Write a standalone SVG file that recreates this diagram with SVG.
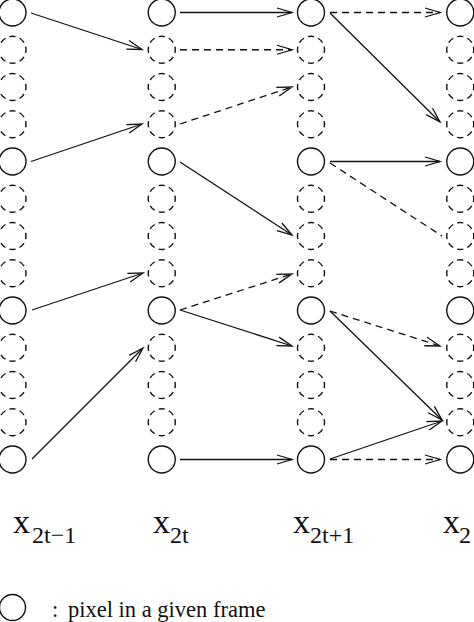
<svg xmlns="http://www.w3.org/2000/svg" width="474" height="622" viewBox="0 0 474 622">
<style>
.px{fill:none;stroke:#111;stroke-width:1.4}
.dp{fill:none;stroke:#111;stroke-width:1.4;stroke-dasharray:6 4;stroke-dashoffset:3}
.s{stroke:#111;stroke-width:1.3;fill:none;marker-end:url(#ah)}
.d{stroke:#111;stroke-width:1.3;fill:none;stroke-dasharray:7 5;marker-end:url(#ah)}
.dn{stroke:#111;stroke-width:1.3;fill:none;stroke-dasharray:7 5}
.lab{font-family:"Liberation Serif","Times New Roman",serif;fill:#111}
</style>
<defs>
<marker id="ah" markerUnits="userSpaceOnUse" markerWidth="20" markerHeight="12" viewBox="-17 -6 19 12" refX="0" refY="0" orient="auto" overflow="visible">
<path d="M-15,-4.5 L0,0 L-15,4.5" fill="none" stroke="#111" stroke-width="1.3" stroke-dasharray="none"/>
</marker>
<circle id="sc" r="13.5" class="px"/>
<circle id="dc" r="13.5" pathLength="80" class="dp"/>
</defs>
<g id="col1">
<use href="#sc" x="12.5" y="12.5"/><use href="#dc" x="12.5" y="49.75"/><use href="#dc" x="12.5" y="87"/><use href="#dc" x="12.5" y="124.25"/>
<use href="#sc" x="12.5" y="161.5"/><use href="#dc" x="12.5" y="198.75"/><use href="#dc" x="12.5" y="236"/><use href="#dc" x="12.5" y="273.25"/>
<use href="#sc" x="12.5" y="310.5"/><use href="#dc" x="12.5" y="347.75"/><use href="#dc" x="12.5" y="385"/><use href="#dc" x="12.5" y="422.25"/>
<use href="#sc" x="12.5" y="459.5"/>
</g>
<g id="col2">
<use href="#sc" x="161.75" y="12.5"/><use href="#dc" x="161.75" y="49.75"/><use href="#dc" x="161.75" y="87"/><use href="#dc" x="161.75" y="124.25"/>
<use href="#sc" x="161.75" y="161.5"/><use href="#dc" x="161.75" y="198.75"/><use href="#dc" x="161.75" y="236"/><use href="#dc" x="161.75" y="273.25"/>
<use href="#sc" x="161.75" y="310.5"/><use href="#dc" x="161.75" y="347.75"/><use href="#dc" x="161.75" y="385"/><use href="#dc" x="161.75" y="422.25"/>
<use href="#sc" x="161.75" y="459.5"/>
</g>
<g id="col3">
<use href="#sc" x="311" y="12.5"/><use href="#dc" x="311" y="49.75"/><use href="#dc" x="311" y="87"/><use href="#dc" x="311" y="124.25"/>
<use href="#sc" x="311" y="161.5"/><use href="#dc" x="311" y="198.75"/><use href="#dc" x="311" y="236"/><use href="#dc" x="311" y="273.25"/>
<use href="#sc" x="311" y="310.5"/><use href="#dc" x="311" y="347.75"/><use href="#dc" x="311" y="385"/><use href="#dc" x="311" y="422.25"/>
<use href="#sc" x="311" y="459.5"/>
</g>
<g id="col4">
<use href="#sc" x="460.25" y="12.5"/><use href="#dc" x="460.25" y="49.75"/><use href="#dc" x="460.25" y="87"/><use href="#dc" x="460.25" y="124.25"/>
<use href="#sc" x="460.25" y="161.5"/><use href="#dc" x="460.25" y="198.75"/><use href="#dc" x="460.25" y="236"/><use href="#dc" x="460.25" y="273.25"/>
<use href="#sc" x="460.25" y="310.5"/><use href="#dc" x="460.25" y="347.75"/><use href="#dc" x="460.25" y="385"/><use href="#dc" x="460.25" y="422.25"/>
<use href="#sc" x="460.25" y="459.5"/>
</g>
<g id="connectors">
<line class="s" x1="31" y1="13" x2="142" y2="49.5"/>
<line class="s" x1="31" y1="161.5" x2="142" y2="124"/>
<line class="s" x1="32" y1="310" x2="143" y2="273"/>
<line class="s" x1="32" y1="459" x2="143" y2="348"/>
<line class="s" x1="180" y1="12.5" x2="292" y2="12.5"/>
<line class="d" x1="180" y1="49.75" x2="292" y2="49.75"/>
<line class="d" x1="180" y1="124" x2="292" y2="87"/>
<line class="s" x1="180" y1="162" x2="292" y2="235"/>
<line class="d" x1="180" y1="310" x2="292" y2="274"/>
<line class="s" x1="180" y1="310" x2="292" y2="346"/>
<line class="s" x1="180" y1="459.5" x2="292" y2="459.5"/>
<line class="d" x1="330" y1="12.5" x2="440" y2="12.5"/>
<line class="s" x1="330" y1="13" x2="440" y2="122"/>
<line class="s" x1="330" y1="161.5" x2="440" y2="161.5"/>
<line class="dn" x1="330" y1="163" x2="442" y2="236"/>
<line class="d" x1="330" y1="311" x2="440" y2="346"/>
<line class="s" x1="330" y1="311" x2="442" y2="420"/>
<line class="s" x1="330" y1="459" x2="442" y2="421"/>
<line class="d" x1="330" y1="459.5" x2="440" y2="459.5"/>
</g>
<g id="labels">
<text class="lab" x="13" y="533" font-size="34">x<tspan x="32" y="543" font-size="24">2t−1</tspan></text>
<text class="lab" x="153" y="533" font-size="34">x<tspan x="170" y="543" font-size="24">2t</tspan></text>
<text class="lab" x="293" y="533" font-size="34">x<tspan x="310" y="543" font-size="24">2t+1</tspan></text>
<text class="lab" x="443" y="533" font-size="34">x<tspan x="459" y="543" font-size="24">2</tspan></text>
</g>
<g id="legend">
<circle cx="12.5" cy="607.5" r="13" class="px"/>
<text class="lab" x="52" y="617" font-size="22.5">:<tspan x="68">pixel in a given frame</tspan></text>
</g>
</svg>
